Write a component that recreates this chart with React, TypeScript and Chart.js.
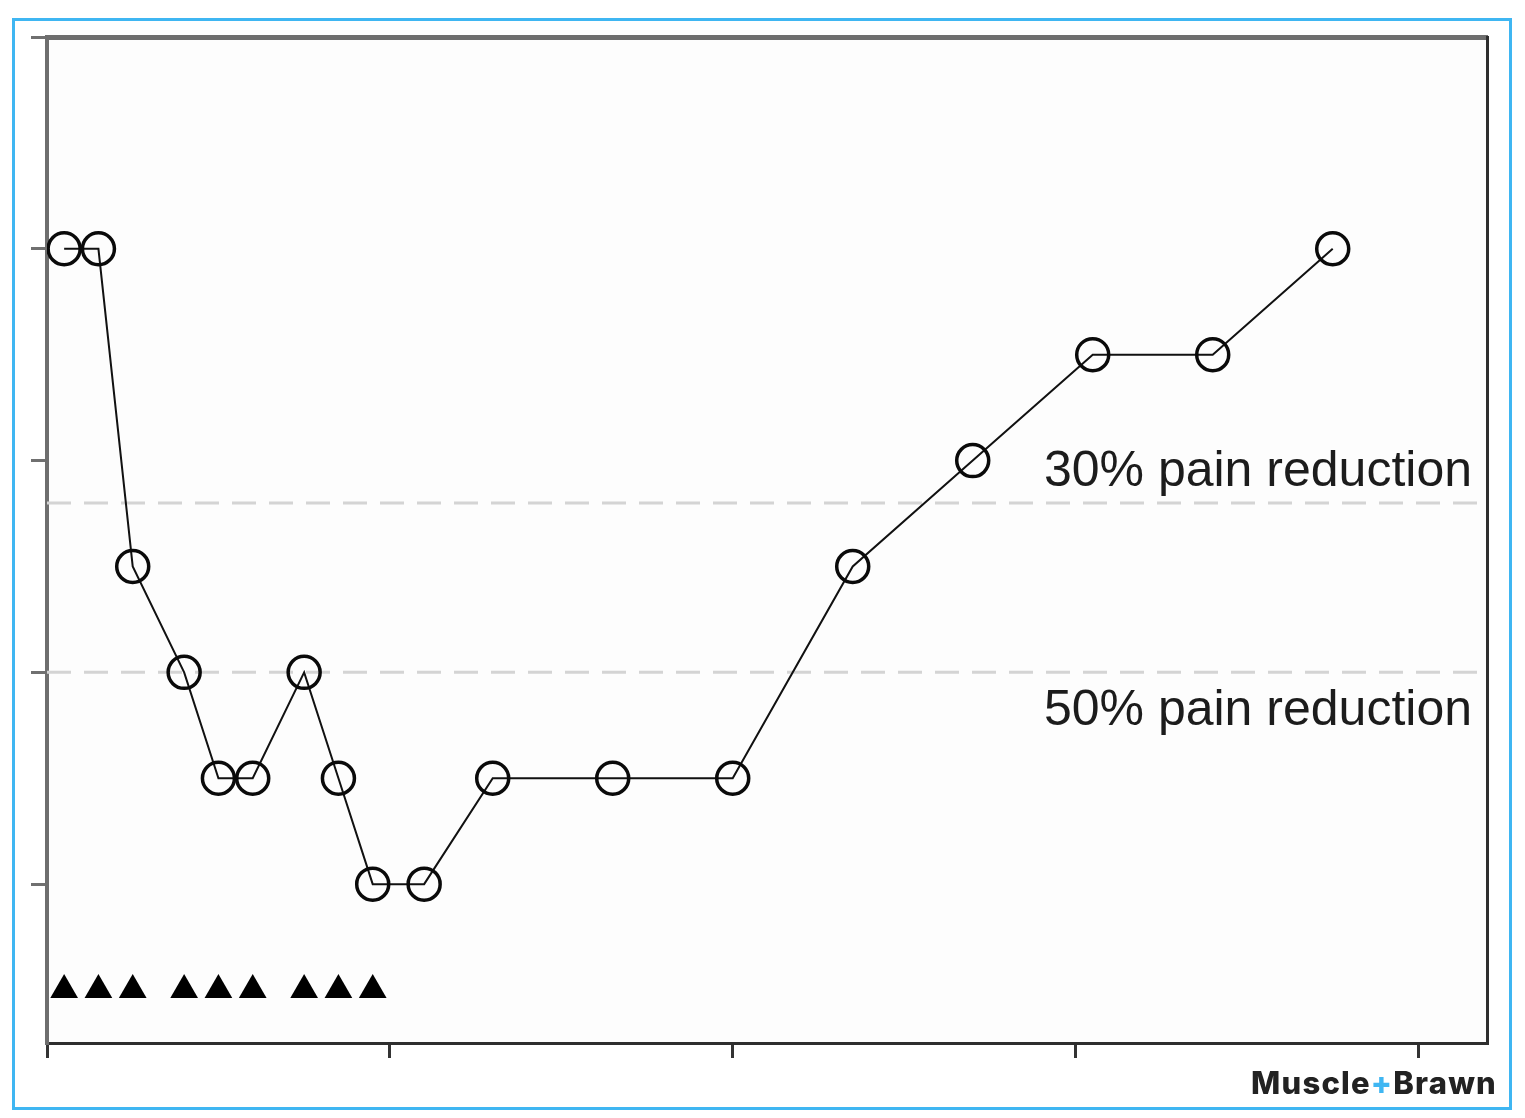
import { useEffect, useRef } from "react"
import { Chart, registerables } from "chart.js"

Chart.register(...registerables)

// days since first session, pain score on that day
const days = [0.5, 1.5, 2.5, 4, 5, 6, 7.5, 8.5, 9.5, 11, 13, 16.5, 20, 23.5, 27, 30.5, 34, 37.5]
const painScores = [8, 8, 5, 4, 3, 3, 4, 3, 2, 2, 3, 3, 3, 5, 6, 7, 7, 8]

// treatment sessions (triangles along the bottom)
const sessionDays = [0.5, 1.5, 2.5, 4, 5, 6, 7.5, 8.5, 9.5]
const sessionLevel = 1

// reduction thresholds from a baseline of 8
const thresholdLabels = ["30% pain reduction", "50% pain reduction"]
const thresholdValues = [5.6, 4]

const xTicks = [0, 10, 20, 30, 40]
const yTicks = [2, 4, 6, 8, 10]

const labelPlugin = {
  id: "thresholdLabels",
  beforeDraw(chart: Chart) {
    const { ctx, chartArea } = chart
    ctx.save()
    ctx.fillStyle = "#fdfdfd"
    ctx.fillRect(chartArea.left, chartArea.top, chartArea.right - chartArea.left, chartArea.bottom - chartArea.top)
    ctx.restore()
  },
  afterDatasetsDraw(chart: Chart) {
    const { ctx, chartArea, scales } = chart
    ctx.save()
    ctx.font = '50px "Liberation Sans", Arial, sans-serif'
    ctx.fillStyle = "#1c1c1c"
    ctx.textAlign = "right"
    ctx.textBaseline = "alphabetic"
    const x = chartArea.right - 15
    ctx.fillText(thresholdLabels[0], x, scales.y.getPixelForValue(thresholdValues[0]) - 17)
    ctx.fillText(thresholdLabels[1], x, scales.y.getPixelForValue(thresholdValues[1]) + 53)
    ctx.restore()
  },
}

export default function App() {
  const chartRef = useRef<HTMLCanvasElement>(null)
  const chartInstance = useRef<Chart | null>(null)

  useEffect(() => {
    if (!chartRef.current) return
    if (chartInstance.current) chartInstance.current.destroy()
    const ctx = chartRef.current.getContext("2d")
    if (!ctx) return

    const dashed = (v: number) => ({
      type: "line" as const,
      data: [
        { x: 0, y: v },
        { x: 42, y: v },
      ],
      borderColor: "#d4d4d4",
      borderWidth: 3,
      borderDash: [24, 13],
      pointRadius: 0,
      order: 3,
    })

    chartInstance.current = new Chart(ctx, {
      type: "scatter",
      data: {
        datasets: [
          {
            type: "line",
            data: days.map((d, i) => ({ x: d, y: painScores[i] })),
            borderColor: "#111",
            borderWidth: 2,
            pointRadius: 16,
            pointBorderWidth: 3.5,
            pointBorderColor: "#0a0a0a",
            pointBackgroundColor: "rgba(0,0,0,0)",
            order: 0,
          },
          {
            data: sessionDays.map((d) => ({ x: d, y: sessionLevel })),
            pointStyle: "triangle",
            pointRadius: 16,
            pointBorderWidth: 0,
            pointBackgroundColor: "#000",
            order: 1,
          },
          dashed(thresholdValues[0]),
          dashed(thresholdValues[1]),
        ],
      },
      options: {
        animation: false,
        responsive: true,
        maintainAspectRatio: false,
        layout: { padding: { left: 31, top: 37, right: 38, bottom: 60 } },
        plugins: { legend: { display: false }, tooltip: { enabled: false } },
        scales: {
          x: {
            type: "linear",
            position: "bottom",
            min: 0,
            max: 42,
            afterBuildTicks: (s: any) => {
              s.ticks = xTicks.map((v) => ({ value: v }))
            },
            ticks: { display: false },
            grid: { drawOnChartArea: false, tickLength: 15, color: "#333", lineWidth: 3 },
            border: { color: "#2e2e2e", width: 3 },
          },
          y: {
            type: "linear",
            position: "left",
            min: 0.5,
            max: 10,
            afterBuildTicks: (s: any) => {
              s.ticks = yTicks.map((v) => ({ value: v }))
            },
            ticks: { display: false },
            grid: { drawOnChartArea: false, tickLength: 16, color: "#707070", lineWidth: 3 },
            border: { color: "#6e6e6e", width: 4 },
          },
          x2: {
            type: "linear",
            position: "top",
            min: 0,
            max: 42,
            ticks: { display: false },
            grid: { display: false, drawTicks: false },
            border: { color: "#6e6e6e", width: 5 },
          },
          y2: {
            type: "linear",
            position: "right",
            min: 0.5,
            max: 10,
            ticks: { display: false },
            grid: { display: false, drawTicks: false },
            border: { color: "#2e2e2e", width: 3 },
          },
        },
      },
      plugins: [labelPlugin],
    })

    return () => {
      if (chartInstance.current) {
        chartInstance.current.destroy()
        chartInstance.current = null
      }
    }
  }, [])

  return (
    <div style={{ position: "fixed", left: 0, top: 0, width: 1525, height: 1118, background: "#fff" }}>
      <div
        style={{
          position: "absolute",
          left: 12,
          top: 18,
          width: 1494,
          height: 1086,
          border: "3px solid #3fb6f2",
        }}
      />
      <div style={{ position: "absolute", left: 0, top: 0, width: 1525, height: 1118 }}>
        <canvas ref={chartRef} />
      </div>
      <div
        style={{
          position: "absolute",
          right: 28,
          top: 1067,
          fontFamily: "Inter, 'Noto Sans', sans-serif",
          fontWeight: 800,
          fontSize: 31,
          lineHeight: 1,
          color: "#222",
          letterSpacing: 1.2,
        }}
      >
        Muscle<span style={{ color: "#3fb6f2" }}>+</span>Brawn
      </div>
    </div>
  )
}
